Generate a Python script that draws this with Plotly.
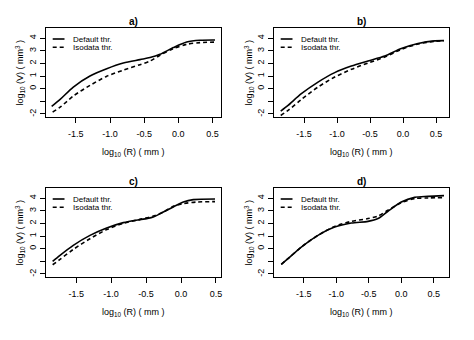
import plotly.graph_objects as go

# ---------------- data ----------------
panel_titles = ["a)", "b)", "c)", "d)"]
legend_labels = ["Default thr.", "Isodata thr."]

# panel a
a_def_x = [-1.854, -1.73, -1.537, -1.293, -1.048, -0.805, -0.561, -0.414, -0.268, -0.073, 0.123, 0.318, 0.537]
a_def_y = [-1.40, -0.85, 0.13, 1.00, 1.58, 2.03, 2.30, 2.46, 2.72, 3.25, 3.69, 3.83, 3.85]
a_iso_x = [-1.84, -1.73, -1.537, -1.293, -1.048, -0.805, -0.561, -0.414, -0.268, -0.073, 0.123, 0.318, 0.56]
a_iso_y = [-1.85, -1.46, -0.58, 0.26, 0.98, 1.47, 1.90, 2.19, 2.64, 3.17, 3.51, 3.64, 3.69]

# panel b
b_def_x = [-1.853, -1.742, -1.54, -1.288, -1.035, -0.783, -0.53, -0.277, -0.026, 0.227, 0.48, 0.621]
b_def_y = [-1.77, -1.32, -0.40, 0.52, 1.27, 1.79, 2.19, 2.58, 3.17, 3.57, 3.78, 3.80]
b_iso_x = [-1.853, -1.742, -1.54, -1.288, -1.035, -0.783, -0.53, -0.277, -0.026, 0.227, 0.48, 0.621]
b_iso_y = [-2.12, -1.72, -0.85, 0.13, 0.92, 1.53, 2.03, 2.50, 3.11, 3.53, 3.75, 3.77]

# panel c
c_def_x = [-1.836, -1.731, -1.541, -1.302, -1.063, -0.825, -0.587, -0.491, -0.396, -0.253, -0.11, 0.033, 0.176, 0.486]
c_def_y = [-1.01, -0.53, 0.26, 1.05, 1.63, 2.06, 2.30, 2.38, 2.50, 2.90, 3.30, 3.69, 3.88, 3.93]
c_iso_x = [-1.836, -1.731, -1.541, -1.302, -1.063, -0.825, -0.587, -0.396, -0.253, -0.11, 0.033, 0.224, 0.486]
c_iso_y = [-1.27, -0.85, -0.06, 0.79, 1.51, 2.00, 2.32, 2.58, 2.90, 3.35, 3.56, 3.69, 3.72]

# panel d
d_def_x = [-1.846, -1.743, -1.538, -1.282, -1.025, -0.769, -0.512, -0.358, -0.205, 0.0, 0.205, 0.41, 0.657]
d_def_y = [-1.24, -0.79, 0.13, 1.05, 1.71, 2.03, 2.16, 2.38, 2.96, 3.69, 4.06, 4.14, 4.20]
d_iso_x = [-1.846, -1.743, -1.538, -1.282, -1.025, -0.769, -0.512, -0.358, -0.205, 0.0, 0.205, 0.41, 0.657]
d_iso_y = [-1.24, -0.79, 0.13, 1.05, 1.76, 2.16, 2.38, 2.58, 3.04, 3.64, 3.96, 4.01, 4.04]

x_ticks = [-1.5, -1.0, -0.5, 0.0, 0.5]
x_ticklabels = ["-1.5", "-1.0", "-0.5", "0.0", "0.5"]
y_ticks = [-2, 0, 1, 2, 3, 4]
y_ticklabels = ["-2", "0", "1", "2", "3", "4"]
y_unlabelled_ticks = [-1]

x_label = "log<sub>10</sub> (R) ( mm )"
y_label = "log<sub>10</sub> (V) ( mm<sup>3</sup> )"

panels = [
    (a_def_x, a_def_y, a_iso_x, a_iso_y),
    (b_def_x, b_def_y, b_iso_x, b_iso_y),
    (c_def_x, c_def_y, c_iso_x, c_iso_y),
    (d_def_x, d_def_y, d_iso_x, d_iso_y),
]

# ---------------- layout geometry (pixels) ----------------
W, H = 474, 340
box_x = [(46, 221), (274, 449), (46, 221), (274, 449)]
box_y = [(28, 117), (28, 117), (188, 277), (188, 277)]
x_ranges = [[-1.937, 0.625], [-1.955, 0.697], [-1.931, 0.572], [-1.958, 0.734]]
y_range = [-2.24, 4.80]
ylab_px = [20, 249, 20, 249]

FONT = "Liberation Sans Narrow, Liberation Sans, Arial, sans-serif"

fig = go.Figure()
layout = dict(
    width=W, height=H,
    margin=dict(l=0, r=0, t=0, b=0),
    paper_bgcolor="white", plot_bgcolor="white",
    showlegend=False,
    font=dict(family=FONT, size=9, color="black"),
)
annotations = []
shapes = []

for i, (dx, dy, ix, iy) in enumerate(panels):
    n = "" if i == 0 else str(i + 1)
    xa, ya = "x" + n, "y" + n
    fig.add_trace(go.Scatter(x=dx, y=dy, mode="lines", xaxis=xa, yaxis=ya,
                             line=dict(color="black", width=1.6, shape="spline", smoothing=0.8),
                             name=legend_labels[0]))
    fig.add_trace(go.Scatter(x=ix, y=iy, mode="lines", xaxis=xa, yaxis=ya,
                             line=dict(color="black", width=1.6, dash="4px,3px", shape="spline", smoothing=0.8),
                             name=legend_labels[1]))
    x0, x1 = box_x[i]
    y0, y1 = box_y[i]
    dom_x = [x0 / W, x1 / W]
    dom_y = [1 - y1 / H, 1 - y0 / H]
    layout["xaxis" + n] = dict(
        domain=dom_x, range=x_ranges[i], anchor=ya,
        tickmode="array", tickvals=x_ticks, ticktext=x_ticklabels,
        showgrid=False, zeroline=False, showline=True, mirror=True,
        linecolor="black", linewidth=1, ticks="outside", ticklen=5, tickwidth=1,
        tickcolor="black", tickfont=dict(size=9, family=FONT), ticklabelstandoff=3,
    )
    layout["yaxis" + n] = dict(
        domain=dom_y, range=y_range, anchor=xa,
        tickmode="array", tickvals=y_ticks, ticktext=y_ticklabels, tickangle=-90,
        minor=dict(tickmode="array", tickvals=y_unlabelled_ticks, ticks="outside",
                   ticklen=5, tickwidth=1, tickcolor="black", showgrid=False),
        showgrid=False, zeroline=False, showline=True, mirror=True,
        linecolor="black", linewidth=1, ticks="outside", ticklen=5, tickwidth=1,
        tickcolor="black", tickfont=dict(size=9, family=FONT),
    )
    cx = (x0 + x1) / 2 / W
    # panel title
    annotations.append(dict(text="<b>" + panel_titles[i] + "</b>", x=cx, y=1 - (y0 - 7) / H,
                            xref="paper", yref="paper", showarrow=False,
                            xanchor="center", yanchor="middle", font=dict(size=10, family=FONT)))
    # x label
    annotations.append(dict(text=x_label, x=cx, y=1 - (y1 + 35) / H,
                            xref="paper", yref="paper", showarrow=False,
                            xanchor="center", yanchor="middle", font=dict(size=9, family=FONT)))
    # y label
    annotations.append(dict(text=y_label, x=ylab_px[i] / W, y=1 - (y0 + y1) / 2 / H,
                            xref="paper", yref="paper", showarrow=False, textangle=-90,
                            xanchor="center", yanchor="middle", font=dict(size=9, family=FONT)))
    # legend
    for k, lab in enumerate(legend_labels):
        ly = 1 - (11 + 8.3 * k) / (y1 - y0)
        shapes.append(dict(type="line", xref=xa + " domain", yref=ya + " domain",
                           x0=6.7 / 175, x1=18.5 / 175, y0=ly, y1=ly,
                           line=dict(color="black", width=1.6, dash="solid" if k == 0 else "4px,3px")))
        annotations.append(dict(text=lab, x=25 / 175, y=ly, xref=xa + " domain", yref=ya + " domain",
                                showarrow=False, xanchor="left", yanchor="middle",
                                font=dict(size=8, family=FONT)))

layout["annotations"] = annotations
layout["shapes"] = shapes
fig.update_layout(**layout)
fig.write_html("out.html")
